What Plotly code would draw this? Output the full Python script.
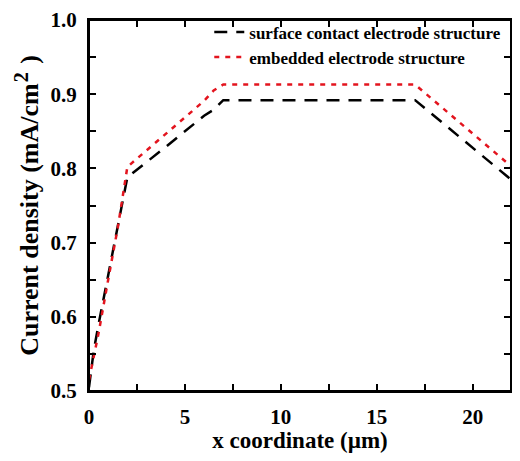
import plotly.graph_objects as go

# x positions (um) and current density (mA/cm2)
x_surface = [0, 0.25, 0.5, 1, 1.5, 2, 4, 6, 6.5, 7, 17, 22]
y_surface = [0.505, 0.555, 0.59, 0.655, 0.72, 0.788, 0.829, 0.871, 0.879, 0.892, 0.892, 0.785]

x_embedded = [0, 0.25, 0.5, 1, 1.5, 2, 4, 6, 6.5, 7, 17, 22]
y_embedded = [0.515, 0.548, 0.578, 0.65, 0.72, 0.802, 0.846, 0.891, 0.905, 0.913, 0.913, 0.803]

x_ticks = [0, 5, 10, 15, 20]
y_ticks = [0.5, 0.6, 0.7, 0.8, 0.9, 1.0]

font_family = "Liberation Serif"

fig = go.Figure()

fig.add_trace(go.Scatter(
    x=x_surface, y=y_surface, mode="lines",
    name="surface contact electrode structure",
    line=dict(color="black", width=2.5, dash="13px,9px"),
))
fig.add_trace(go.Scatter(
    x=x_embedded, y=y_embedded, mode="lines",
    name="embedded electrode structure",
    line=dict(color="#E3141E", width=2.5, dash="5px,6px"),
))

axis_common = dict(
    showline=True, linecolor="black", linewidth=2, mirror="ticks",
    ticks="inside", ticklen=7, tickwidth=2, tickcolor="black",
    showgrid=False, zeroline=False, ticklabeloverflow="allow", automargin=False,
    tickfont=dict(family=font_family, size=21, color="black", weight="bold"),
)

fig.update_xaxes(
    range=[0, 22], tickvals=x_ticks,
    minor=dict(dtick=2.5, tick0=0, ticks="inside", ticklen=7, tickwidth=2, tickcolor="black"),
    ticklabelstandoff=6,
    title=dict(text="x coordinate (\u00b5m)", standoff=4,
               font=dict(family=font_family, size=23, color="black", weight="bold")),
    **axis_common,
)
fig.update_yaxes(
    range=[0.5, 1.0], tickvals=y_ticks, tickformat=".1f",
    minor=dict(dtick=0.05, tick0=0.5, ticks="inside", ticklen=7, tickwidth=2, tickcolor="black"),
    ticklabelstandoff=6,
    title=dict(text="Current density (mA/cm   )\u00a0\u00a0\u00a0", standoff=4,
               font=dict(family=font_family, size=26, color="black", weight="bold")),
    **axis_common,
)

# the raised "2" of cm2 sits apart from the rotated title
fig.add_annotation(
    text="2", xref="paper", yref="paper", x=-0.161, y=0.846,
    xanchor="center", yanchor="middle",
    showarrow=False, textangle=-90,
    font=dict(family=font_family, size=20, color="black", weight="bold"),
)

# frame round the plot area
fig.add_shape(
    type="rect", xref="paper", yref="paper", x0=0, x1=1, y0=0, y1=1,
    line=dict(color="black", width=2), layer="above",
)

# page body adds an 8px margin, so the figure is kept inside the window
fig.update_layout(
    width=504, height=445,
    margin=dict(l=81, r=1, t=12, b=62, autoexpand=False),
    plot_bgcolor="white", paper_bgcolor="white",
    legend=dict(
        x=0.285, y=1.015, xanchor="left", yanchor="top",
        bgcolor="rgba(0,0,0,0)",
        font=dict(family=font_family, size=17, color="black", weight="bold"),
        tracegroupgap=0,
    ),
)

fig.write_html("out.html")
